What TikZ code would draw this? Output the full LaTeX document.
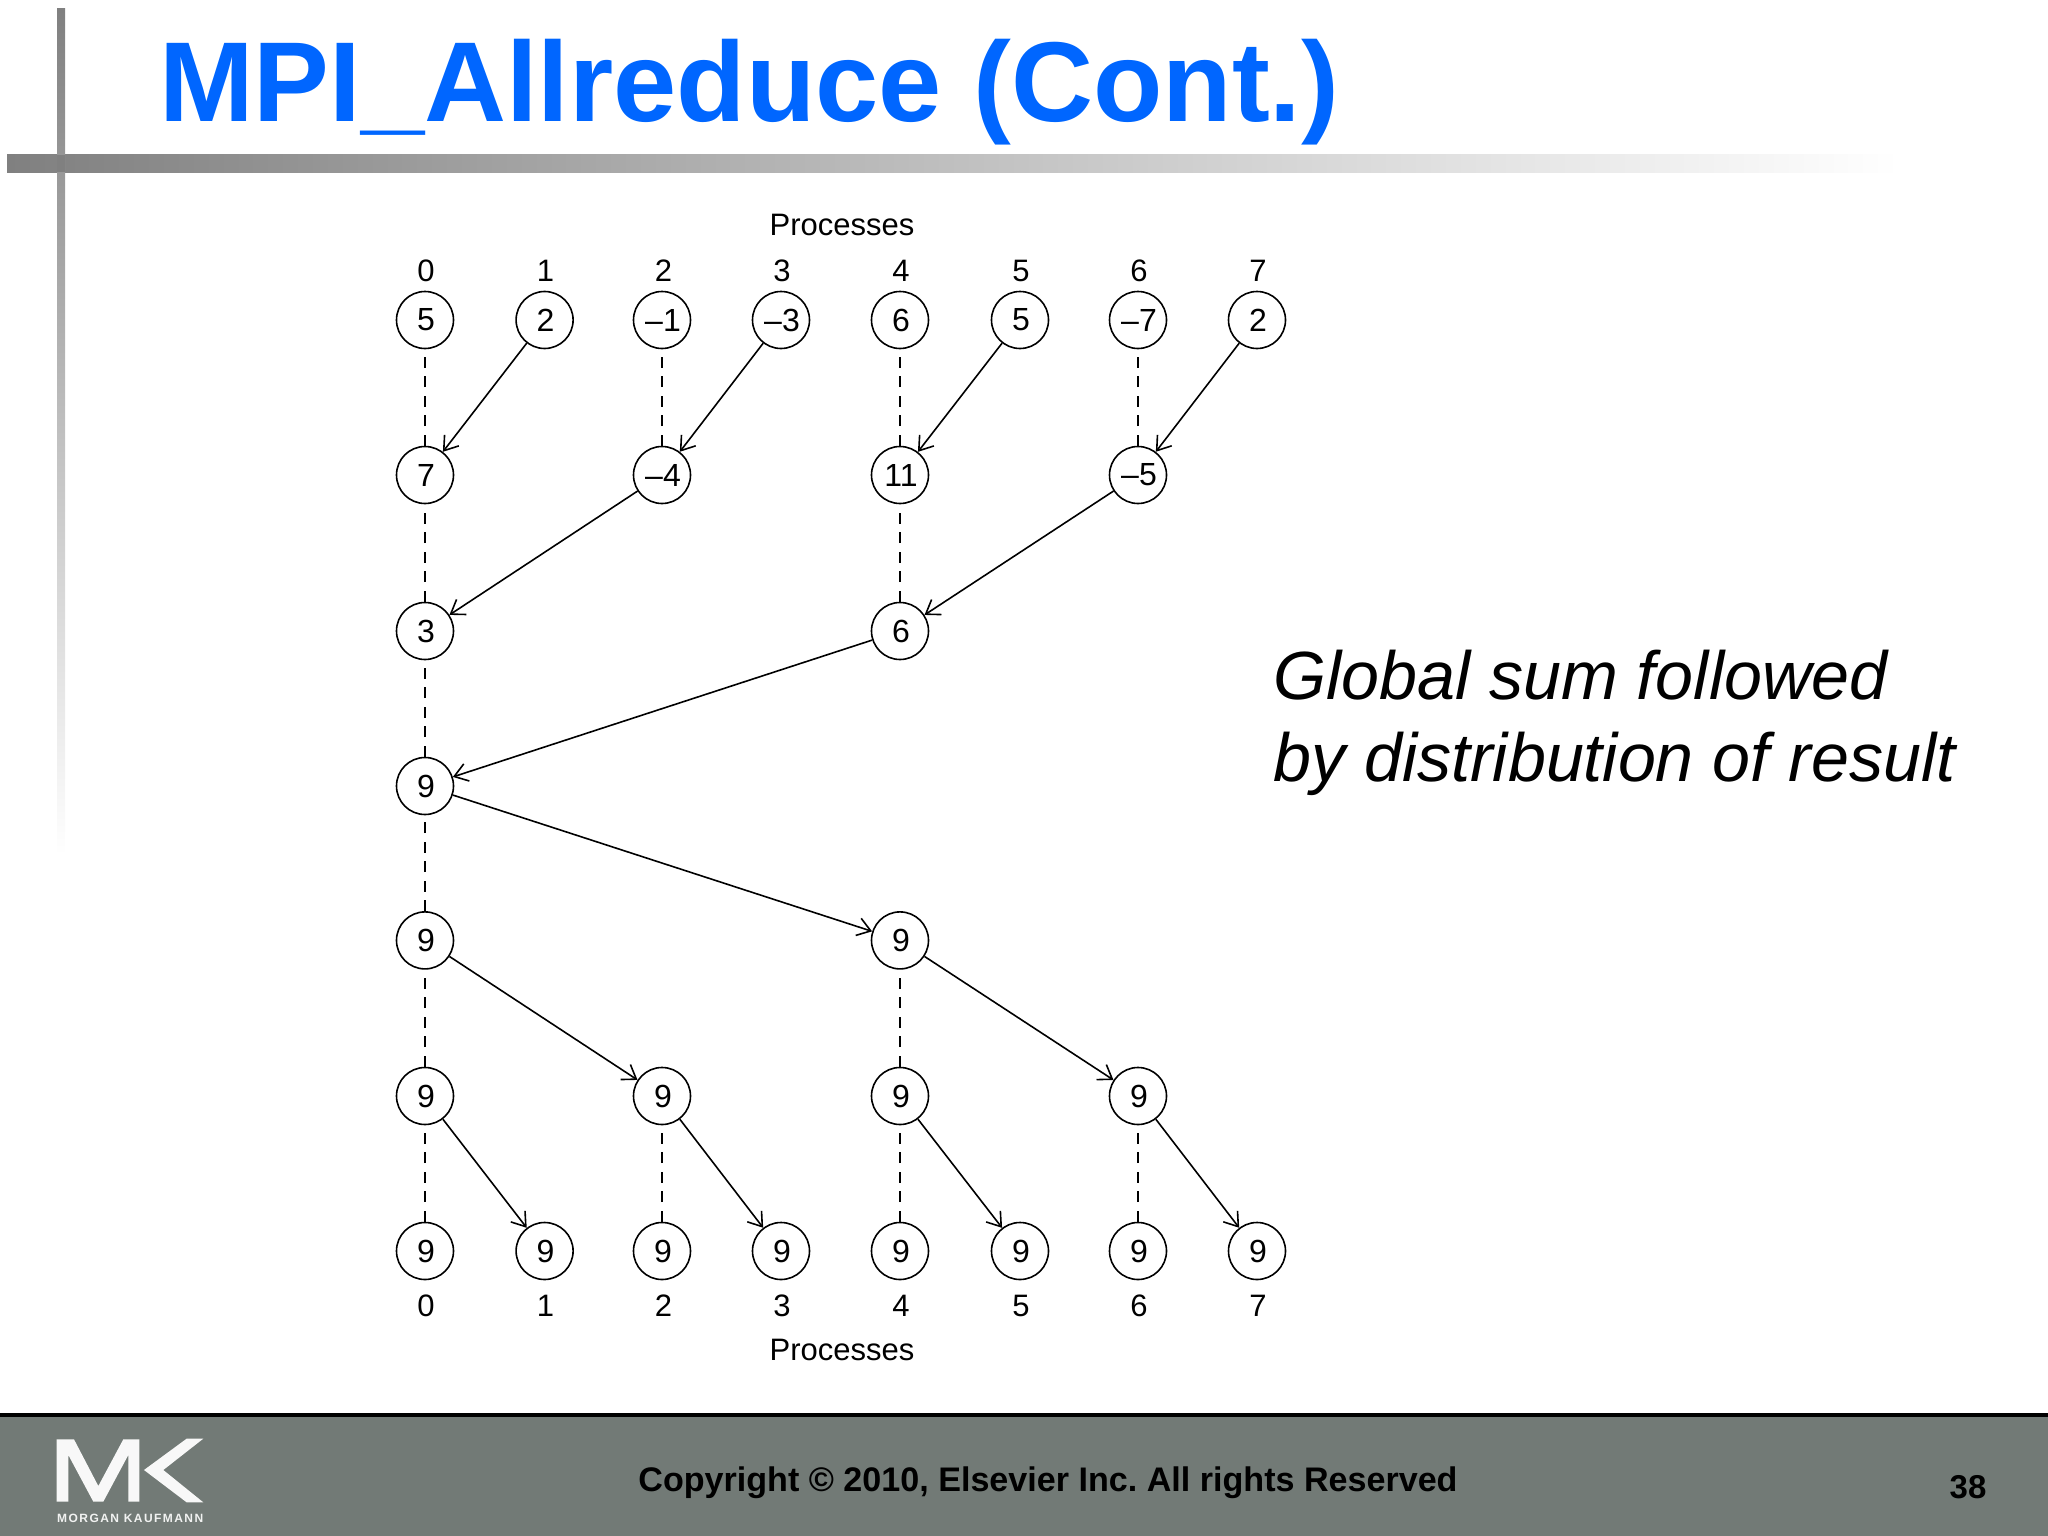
\documentclass[tikz,border=0pt]{standalone}
\usepackage{fontspec}
\setmainfont{Liberation Sans}
\newfontfamily\logofont[LetterSpace=12]{Liberation Sans}
\usetikzlibrary{arrows.meta}
\definecolor{titleblue}{HTML}{0066FF}
\definecolor{footgray}{HTML}{727A76}
\definecolor{bargray}{HTML}{808080}
\newcommand{\fs}[1]{\fontsize{#1}{#1}\selectfont}
\frenchspacing
\tikzset{
  x=1pt,y=-1pt,
  proc/.style={circle,draw=black,line width=1.6pt,minimum size=57pt,inner sep=0pt,font=\fs{32},execute at begin node={\kern2pt}},
  lab/.style={inner sep=0pt,font=\fs{31}},
  pass/.style={line width=1.6pt,-{Straight Barb[length=13pt,width=18pt,line width=1.6pt]},shorten >=0pt},
  stay/.style={line width=1.6pt,dash pattern=on 11pt off 8.5pt},
}
\begin{document}
\begin{tikzpicture}
\useasboundingbox (0,0) rectangle (2048,1536);
% decoration
\shade[left color=bargray,right color=white,shading angle=90] (7,155) rectangle (1900,172);
\shade[top color=bargray,bottom color=white] (57,9) rectangle (65,855);
\fill[bargray] (57,155) rectangle (65,172);
% footer
\fill[footgray] (0,1415) rectangle (2048,1536);
\fill[black] (0,1413) rectangle (2048,1417);
\begin{scope}[shift={(0,1380)},x=0.3333pt,y=-0.3333pt]
\fill[white!95!footgray] (170,178)--(222,178)--(295,318)--(370,178)--(418,178)--(418,365)--(385,365)--(385,225)--(310,365)--(280,365)--(205,225)--(205,365)--(170,365)--cycle;
\fill[white!95!footgray] (610,176)--(560,176)--(432,270)--(560,367)--(610,367)--(490,270)--cycle;
\end{scope}
\node[anchor=base west,inner sep=0pt,text=white!90!footgray,font=\logofont\bfseries\fs{12}] (pub) at (57,1522) {MORGAN KAUFMANN};
\node[anchor=base west,inner sep=0pt,text=titleblue,font=\bfseries\fs{113.6}] (title) at (159,122) {MPI\symbol{95}Allreduce (Cont.)};
\node[anchor=base,inner sep=0pt,font=\bfseries\fs{34.1}] (copy) at (1048,1491) {Copyright © 2010, Elsevier Inc. All rights Reserved};
\node[anchor=base,inner sep=0pt,font=\bfseries\fs{33}] (page) at (1968,1498) {38};
\node[anchor=base west,inner sep=0pt,font=\itshape\fs{68.2}] (note1) at (1273,699) {Global sum followed};
\node[anchor=base west,inner sep=0pt,font=\itshape\fs{68.2}] (note2) at (1273,781) {by distribution of result};
\node[lab] (ptop) at (842,225) {Processes};
\node[lab] (pbot) at (842,1350) {Processes};
\foreach \c/\x in {0/426,1/545.6,2/663.5,3/782,4/901,5/1021,6/1139,7/1258}{
  \node[lab] (t\c) at (\x,270.5) {\c};
  \node[lab] (b\c) at (\x,1305.5) {\c};
}
% nodes: name column row text
\foreach \n/\x/\y/\t in {
 a0/425/320/5,a1/544.6/320/2,a2/662/320/{–1},a3/781/320/{–3},a4/900/320/6,a5/1020/320/5,a6/1138/320/{–7},a7/1257/320/2,
 c0/425/475/7,c2/662/475/{–4},c4/900/475/11,c6/1138/475/{–5},
 d0/425/631/3,d4/900/631/6,
 e0/425/786/9,
 f0/425/940.4/9,f4/900/940.4/9,
 g0/425/1096/9,g2/662/1096/9,g4/900/1096/9,g6/1138/1096/9,
 h0/425/1251/9,h1/544.6/1251/9,h2/662/1251/9,h3/781/1251/9,h4/900/1251/9,h5/1020/1251/9,h6/1138/1251/9,h7/1257/1251/9}{
  \node[proc] (\n) at (\x,\y) {\t};
}
% local copies
\foreach \s/\e in {c0/a0,d0/c0,e0/d0,f0/e0,g0/f0,h0/g0,c2/a2,c4/a4,d4/c4,c6/a6,g4/f4,h4/g4,h2/g2,h6/g6}{
  \draw[stay] (\s) -- (\e);
}
% messages
\foreach \s/\e in {a1/c0,a3/c2,a5/c4,a7/c6,c2/d0,c6/d4,d4/e0,e0/f4,f0/g2,f4/g6,g0/h1,g2/h3,g4/h5,g6/h7}{
  \draw[pass] (\s) -- (\e);
}
\end{tikzpicture}
\end{document}
